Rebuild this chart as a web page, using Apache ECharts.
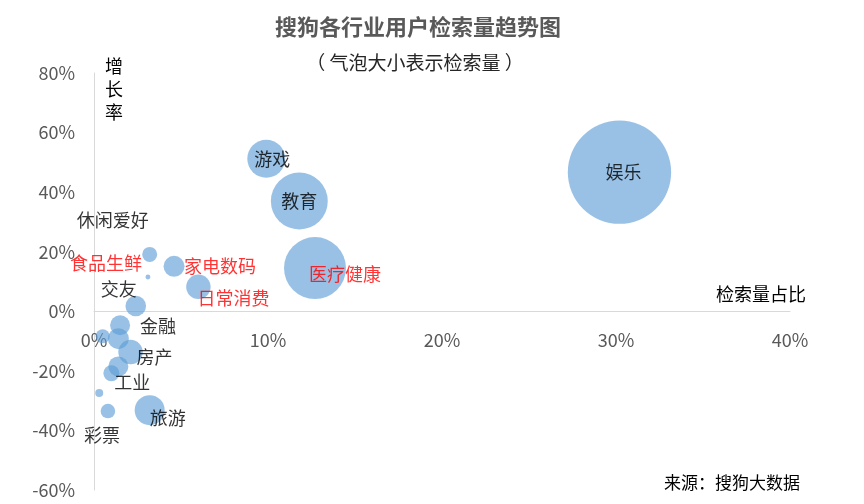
<!DOCTYPE html>
<html><head><meta charset="utf-8">
<script src="https://cdn.jsdelivr.net/npm/echarts@6/dist/echarts.min.js"></script>
<style>html,body{margin:0;padding:0;background:#fff}#c{width:864px;height:504px}</style>
</head><body><div id="c"></div>
<script>
// categories (empty = unlabelled bubble)
const names = ['娱乐','游戏','教育','医疗健康','日常消费','家电数码','休闲爱好','食品生鲜','交友','金融','','','房产','工业','','','彩票','旅游'];
// search share (%)
const share = [30.2, 9.9, 11.8, 12.7, 6.0, 4.6, 3.2, 3.1, 2.4, 1.5, 0.5, 1.4, 2.1, 1.4, 1.0, 0.3, 0.8, 3.2];
// growth rate (%)
const growth = [46.7, 51.2, 37.0, 14.5, 8.2, 15.1, 19.1, 11.5, 1.8, -4.7, -8.4, -9.2, -13.7, -18.5, -20.8, -27.4, -33.5, -33.2];
// search volume (relative units, bubble area)
const volume = [267, 36, 81, 96, 15, 11, 5.6, 0.6, 10.6, 10, 4.9, 11, 15, 10, 6.4, 1.6, 5.3, 22.5];
const xTicks = [0, 10, 20, 30, 40];
const yTicks = [-60, -40, -20, 0, 20, 40, 60, 80];
const highlighted = ['医疗健康','日常消费','家电数码','食品生鲜'];

const labelOffsets = {
  '娱乐':[4,0], '游戏':[6,0], '教育':[0,0], '医疗健康':[30,6], '日常消费':[35,11],
  '家电数码':[46,0], '休闲爱好':[-37,-34], '食品生鲜':[-42,-14], '交友':[-17,-17],
  '金融':[38,1], '房产':[24,5], '工业':[14,16], '彩票':[-6,24], '旅游':[18,8]
};
const FONT = '"Noto Sans CJK SC", "Noto Sans", sans-serif';

const GRID = {left: 94, right: 74, top: 73, bottom: 14};
const H = 504;
const gridH = H - GRID.top - GRID.bottom;
const yMin = yTicks[0], yMax = yTicks[yTicks.length-1];
// move the x axis (line + labels) up to the zero line
const xAxisOffset = -gridH * (0 - yMin) / (yMax - yMin);

const data = names.map((n, i) => ({
  name: n,
  value: [share[i], growth[i], volume[i]],
  label: {
    show: n !== '',
    position: 'inside',
    offset: labelOffsets[n] || [0,0],
    color: highlighted.includes(n) ? '#ff0000' : '#000000'
  }
}));

const chart = echarts.init(document.getElementById('c'), null, {renderer:'canvas'});
chart.setOption({
  animation: false,
  backgroundColor: '#ffffff',
  title: [
    {text: '搜狗各行业用户检索量趋势图', left: 418, textAlign: 'center', top: 16, padding: 0,
     textStyle: {fontFamily: FONT, fontSize: 22, fontWeight: 'bold', color: '#595959'}},
    {text: '（ 气泡大小表示检索量 ）', left: 415, textAlign: 'center', top: 53, padding: 0,
     textStyle: {fontFamily: FONT, fontSize: 19, fontWeight: 'normal', color: '#262626'}},
    {text: '来源：搜狗大数据', right: 64, bottom: 13, padding: 0,
     textStyle: {fontFamily: FONT, fontSize: 17, fontWeight: 'normal', color: '#000000'}}
  ],
  grid: Object.assign({containLabel: false, outerBoundsMode: 'none'}, GRID),
  xAxis: {
    type: 'value', min: xTicks[0], max: xTicks[xTicks.length-1], interval: 10,
    position: 'bottom', offset: xAxisOffset,
    name: '检索量占比', nameLocation: 'end', nameGap: 16,
    nameTextStyle: {fontFamily: FONT, fontSize: 18, color: '#000', align: 'right', verticalAlign: 'bottom', padding: [0,0,8,0]},
    axisLine: {show: true, onZero: false, lineStyle: {color: '#d9d9d9', width: 1}},
    axisTick: {show: false}, splitLine: {show: false},
    axisLabel: {formatter: '{value}%', fontFamily: FONT, fontSize: 18, color: '#595959', margin: 20}
  },
  yAxis: {
    type: 'value', min: yMin, max: yMax, interval: 20,
    name: '增\n长\n率', nameLocation: 'end', nameGap: 18,
    nameTextStyle: {fontFamily: FONT, fontSize: 18, color: '#000', align: 'left', verticalAlign: 'top', lineHeight: 23, padding: [0,0,0,11]},
    axisLine: {show: true, onZero: false, lineStyle: {color: '#d9d9d9', width: 1}},
    axisTick: {show: false}, splitLine: {show: false},
    axisLabel: {formatter: '{value}%', fontFamily: FONT, fontSize: 18, color: '#595959', margin: 19}
  },
  series: [{
    type: 'scatter',
    data: data,
    symbolSize: v => 2 * Math.sqrt(v[2] * 10),
    itemStyle: {color: 'rgba(91,155,213,0.78)'},
    label: {formatter: '{b}', fontFamily: FONT, fontSize: 18},
    emphasis: {disabled: true}
  }]
});
</script></body></html>
